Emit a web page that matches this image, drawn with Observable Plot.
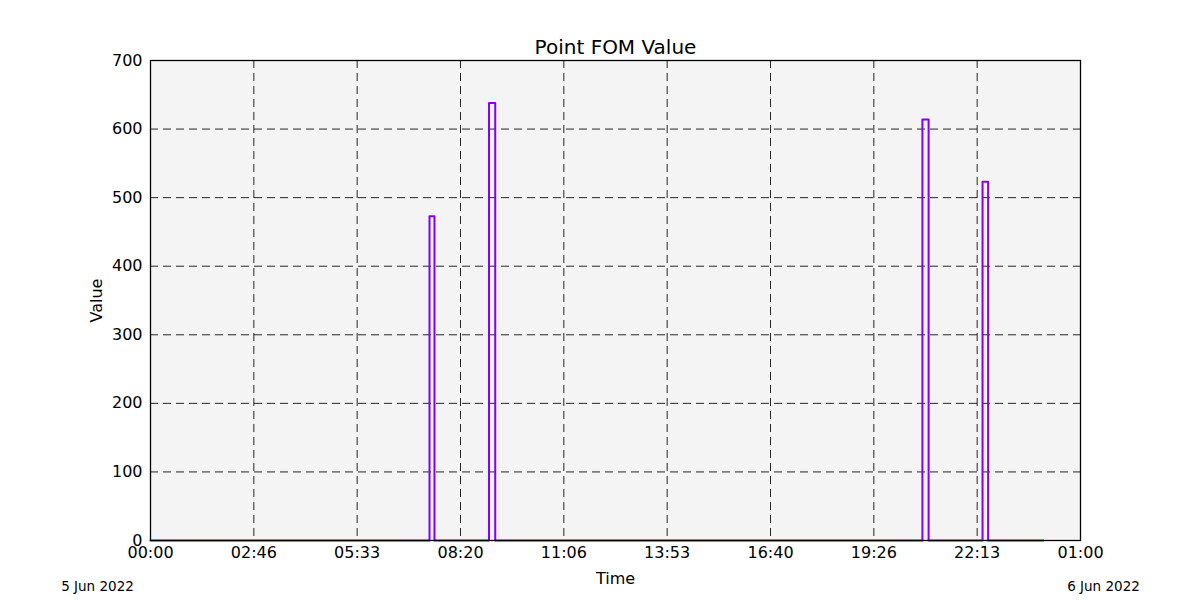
<!DOCTYPE html>
<html>
<head>
<meta charset="utf-8">
<script src="https://cdn.jsdelivr.net/npm/d3@7"></script>
<script src="https://cdn.jsdelivr.net/npm/@observablehq/plot@0.6"></script>
<style>
  html, body { margin: 0; padding: 0; background: #fff; }
  svg { font-family: "DejaVu Sans", sans-serif; }
</style>
</head>
<body>
<div id="chart"></div>
<script>
// ---- data ----
const dayStart = "2022-06-05T00:00:00Z";
const dataEnd = "2022-06-06T00:00:00Z";
const axisEnd = "2022-06-06T01:00:00Z";
const spikeStart = ["2022-06-05T07:30:00Z", "2022-06-05T09:06:00Z", "2022-06-05T20:45:00Z", "2022-06-05T22:22:00Z"];
const spikeEnd   = ["2022-06-05T07:38:00Z", "2022-06-05T09:16:00Z", "2022-06-05T20:55:00Z", "2022-06-05T22:31:00Z"];
const spikeValue = [473, 638, 614, 523];
const xTickLabels = ["00:00", "02:46", "05:33", "08:20", "11:06", "13:53", "16:40", "19:26", "22:13", "01:00"];
const yTicks = [0, 100, 200, 300, 400, 500, 600, 700];
const title = "Point FOM Value";
const xLabel = "Time";
const yLabel = "Value";
const startDateLabel = "5 Jun 2022";
const endDateLabel = "6 Jun 2022";

// ---- build line points ----
const pts = [{t: new Date(dayStart), v: 0}];
spikeStart.forEach((s, i) => {
  const a = new Date(s), b = new Date(spikeEnd[i]);
  pts.push({t: a, v: 0}, {t: a, v: spikeValue[i]}, {t: b, v: spikeValue[i]}, {t: b, v: 0});
});
pts.push({t: new Date(dataEnd), v: 0});

const t0 = new Date(dayStart).getTime();
const t1 = new Date(axisEnd).getTime();
const xTicks = xTickLabels.map((_, i) => new Date(t0 + (t1 - t0) * i / (xTickLabels.length - 1)));
const labelOf = new Map(xTicks.map((d, i) => [d.getTime(), xTickLabels[i]]));

const chart = Plot.plot({
  width: 1200,
  height: 600,
  marginLeft: 150,
  marginRight: 120,
  marginTop: 60,
  marginBottom: 60,
  style: {fontFamily: "DejaVu Sans, sans-serif", background: "#fff", overflow: "visible"},
  x: {type: "utc", domain: [new Date(dayStart), new Date(axisEnd)]},
  y: {domain: [0, 700]},
  marks: [
    Plot.frame({fill: "#f4f4f4", stroke: null}),
    Plot.gridX(xTicks, {stroke: "#000", strokeOpacity: 0.85, strokeDasharray: "8,5", strokeWidth: 1}),
    Plot.gridY(yTicks, {stroke: "#000", strokeOpacity: 0.85, strokeDasharray: "8,5", strokeWidth: 1}),
    Plot.line(pts, {x: "t", y: "v", stroke: "#8000ff", strokeWidth: 2, curve: "linear"}),
    Plot.frame({stroke: "#000", strokeWidth: 1.3}),
    Plot.axisX(xTicks, {tickSize: 0, tickPadding: 6, fontSize: 16, fill: "#000", label: null,
      tickFormat: d => labelOf.get(d.getTime())}),
    Plot.axisY(yTicks, {tickSize: 0, tickPadding: 8, fontSize: 16, fill: "#000", label: null}),
    Plot.text([title], {frameAnchor: "top", lineAnchor: "middle", dy: -13, fontSize: 20, fill: "#000", text: d => d}),
    Plot.text([xLabel], {frameAnchor: "bottom", lineAnchor: "middle", dy: 38, fontSize: 16, fill: "#000", text: d => d}),
    Plot.text([yLabel], {frameAnchor: "left", textAnchor: "middle", lineAnchor: "middle", dx: -54, rotate: -90, fontSize: 16, fill: "#000", text: d => d}),
    Plot.text([startDateLabel], {frameAnchor: "bottom-left", textAnchor: "middle", lineAnchor: "middle", dx: -53, dy: 46, fontSize: 13.5, fill: "#000", text: d => d}),
    Plot.text([endDateLabel], {frameAnchor: "bottom-right", textAnchor: "middle", lineAnchor: "middle", dx: 23, dy: 46, fontSize: 13.5, fill: "#000", text: d => d})
  ]
});
document.getElementById("chart").appendChild(chart);
</script>
</body>
</html>
